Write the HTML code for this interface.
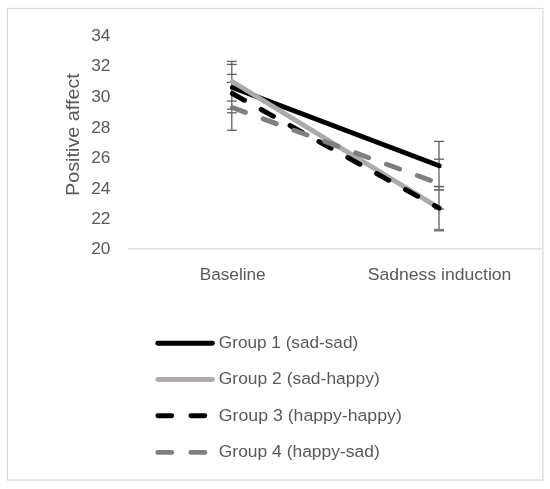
<!DOCTYPE html>
<html>
<head>
<meta charset="utf-8">
<title>Positive affect chart</title>
<style>
html,body{margin:0;padding:0;background:#fff;}
body{width:550px;height:489px;overflow:hidden;}
svg{display:block;}
text{font-family:"Liberation Sans",sans-serif;font-size:17.2px;fill:#595959;}
</style>
</head>
<body>
<svg width="550" height="489" viewBox="0 0 550 489">
<rect x="0" y="0" width="550" height="489" fill="#ffffff"/>
<!-- frame -->
<rect x="7.5" y="8.5" width="535.4" height="471.6" fill="none" stroke="#d9d9d9" stroke-width="1.2"/>
<!-- axis line -->
<line x1="128" y1="248.8" x2="543" y2="248.8" stroke="#d9d9d9" stroke-width="1.3"/>
<!-- y tick labels -->
<g text-anchor="start" style="font-size:18.4px">
<text x="91.2" y="40.8" textLength="19.3" lengthAdjust="spacingAndGlyphs">34</text>
<text x="91.2" y="71.4" textLength="19.3" lengthAdjust="spacingAndGlyphs">32</text>
<text x="91.2" y="102.0" textLength="19.3" lengthAdjust="spacingAndGlyphs">30</text>
<text x="91.2" y="132.6" textLength="19.3" lengthAdjust="spacingAndGlyphs">28</text>
<text x="91.2" y="163.2" textLength="19.3" lengthAdjust="spacingAndGlyphs">26</text>
<text x="91.2" y="193.8" textLength="19.3" lengthAdjust="spacingAndGlyphs">24</text>
<text x="91.2" y="224.4" textLength="19.3" lengthAdjust="spacingAndGlyphs">22</text>
<text x="91.2" y="254.3" textLength="19.3" lengthAdjust="spacingAndGlyphs">20</text>
</g>
<!-- y title -->
<text transform="translate(79,196) rotate(-90)" x="0" y="0" style="font-size:19px" textLength="122.8" lengthAdjust="spacingAndGlyphs">Positive affect</text>
<!-- x labels -->
<text x="199.7" y="279.5" textLength="66" lengthAdjust="spacingAndGlyphs">Baseline</text>
<text x="367.8" y="279.5" textLength="143.6" lengthAdjust="spacingAndGlyphs">Sadness induction</text>
<!-- error bars -->
<g stroke="#606060" stroke-width="1.3" fill="none">
<line x1="231.8" y1="61.4" x2="231.8" y2="130.3"/>
<line x1="226.9" y1="61.4" x2="236.8" y2="61.4"/>
<line x1="226.9" y1="64.4" x2="236.8" y2="64.4"/>
<line x1="226.9" y1="74.4" x2="236.8" y2="74.4"/>
<line x1="226.9" y1="82.3" x2="236.8" y2="82.3"/>
<line x1="226.9" y1="101.1" x2="236.8" y2="101.1"/>
<line x1="226.9" y1="109.2" x2="236.8" y2="109.2"/>
<line x1="226.9" y1="112.8" x2="236.8" y2="112.8"/>
<line x1="226.9" y1="130.3" x2="236.8" y2="130.3"/>
<line x1="439.0" y1="141.4" x2="439.0" y2="230.4"/>
<line x1="434.0" y1="141.4" x2="444.0" y2="141.4"/>
<line x1="434.0" y1="159.2" x2="444.0" y2="159.2"/>
<line x1="434.0" y1="186.6" x2="444.0" y2="186.6" stroke-width="1.6"/>
<line x1="434.0" y1="189.9" x2="444.0" y2="189.9" stroke-width="1.6"/>
<line x1="434.0" y1="209.0" x2="444.0" y2="209.0"/>
<line x1="434.0" y1="230.2" x2="444.0" y2="230.2" stroke="#777777" stroke-width="2.6"/>
</g>
<!-- series -->
<g fill="none" stroke-linecap="round" stroke-width="4.9">
<line x1="232.3" y1="87.5" x2="439.2" y2="165.8" stroke="#000000"/>
<line x1="232.3" y1="81.5" x2="439.2" y2="208.2" stroke="#aeaaaa"/>
<line x1="232.3" y1="93.5" x2="439.2" y2="208.2" stroke="#000000" stroke-dasharray="14 19.0"/>
<line x1="232.3" y1="107.5" x2="439.2" y2="183.6" stroke="#7f7f7f" stroke-dasharray="14 18.85"/>
</g>
<!-- legend -->
<g fill="none" stroke-linecap="round" stroke-width="4.9">
<line x1="157.8" y1="343.3" x2="212.4" y2="343.3" stroke="#000000"/>
<line x1="157.8" y1="379.5" x2="212.4" y2="379.5" stroke="#aeaaaa"/>
<line x1="157.8" y1="415.7" x2="212.4" y2="415.7" stroke="#000000" stroke-dasharray="13.9 19.2"/>
<line x1="157.8" y1="452.4" x2="212.4" y2="452.4" stroke="#7f7f7f" stroke-dasharray="13.9 19.2"/>
</g>
<text x="218.8" y="348.0" textLength="139.4" lengthAdjust="spacingAndGlyphs">Group 1 (sad-sad)</text>
<text x="218.8" y="384.4" textLength="160.9" lengthAdjust="spacingAndGlyphs">Group 2 (sad-happy)</text>
<text x="218.8" y="421.0" textLength="183.0" lengthAdjust="spacingAndGlyphs">Group 3 (happy-happy)</text>
<text x="218.8" y="457.0" textLength="160.9" lengthAdjust="spacingAndGlyphs">Group 4 (happy-sad)</text>
</svg>
</body>
</html>
